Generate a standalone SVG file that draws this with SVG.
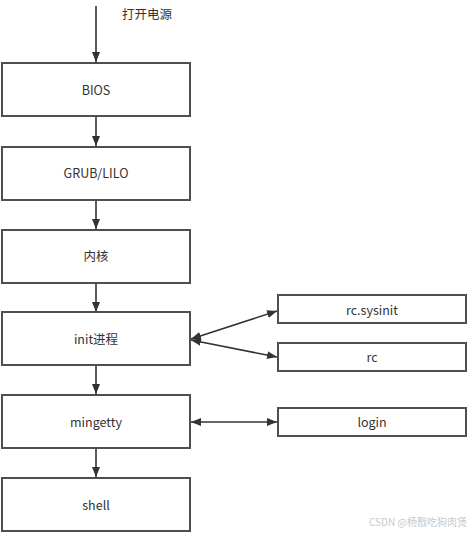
<svg xmlns="http://www.w3.org/2000/svg" width="468" height="534" viewBox="0 0 468 534">
<defs>
<style>
.box{fill:#fff;stroke:#4d4f52;stroke-width:2}
.t{font-family:"Noto Sans CJK SC","Open Sans",sans-serif;font-size:12.5px;fill:#333;text-anchor:middle;dominant-baseline:central}
.c{stroke:#333;stroke-width:1.6;fill:none}
.wm{font-family:"Noto Sans CJK SC",sans-serif;font-size:10px;fill:#c8c8c8}
</style>
<marker id="ah" viewBox="0 0 10 8" refX="10" refY="4" markerWidth="10" markerHeight="8" markerUnits="userSpaceOnUse" orient="auto-start-reverse">
<path d="M0,0 L10,4 L0,8 Z" fill="#333"/>
</marker>
</defs>
<rect width="468" height="534" fill="#fff"/>
<g id="connectors">
<line class="c" x1="96" y1="6" x2="96" y2="62" marker-end="url(#ah)"/>
<line class="c" x1="96" y1="117" x2="96" y2="146" marker-end="url(#ah)"/>
<line class="c" x1="96" y1="201" x2="96" y2="229" marker-end="url(#ah)"/>
<line class="c" x1="96" y1="284" x2="96" y2="312" marker-end="url(#ah)"/>
<line class="c" x1="96" y1="366" x2="96" y2="394" marker-end="url(#ah)"/>
<line class="c" x1="96" y1="449" x2="96" y2="477" marker-end="url(#ah)"/>
<line class="c" x1="191" y1="339" x2="277" y2="311" marker-start="url(#ah)" marker-end="url(#ah)"/>
<line class="c" x1="191" y1="340" x2="277" y2="357" marker-start="url(#ah)" marker-end="url(#ah)"/>
<line class="c" x1="191" y1="422" x2="277" y2="422" marker-start="url(#ah)" marker-end="url(#ah)"/>
</g>
<g id="power"><text class="t" x="147" y="13">打开电源</text></g>
<g id="bios"><rect class="box" x="2" y="63" width="188" height="53"/><text class="t" x="96" y="89">BIOS</text></g>
<g id="grub"><rect class="box" x="2" y="147" width="188" height="53"/><text class="t" x="96" y="172">GRUB/LILO</text></g>
<g id="kernel"><rect class="box" x="2" y="230" width="188" height="53"/><text class="t" x="96" y="255">内核</text></g>
<g id="init"><rect class="box" x="2" y="312" width="188" height="53"/><text class="t" x="96" y="338">init进程</text></g>
<g id="mingetty"><rect class="box" x="2" y="395" width="188" height="53"/><text class="t" x="96" y="421">mingetty</text></g>
<g id="shell"><rect class="box" x="2" y="478" width="188" height="53"/><text class="t" x="96" y="504">shell</text></g>
<g id="rcsysinit"><rect class="box" x="278" y="295" width="188" height="28"/><text class="t" x="372" y="309">rc.sysinit</text></g>
<g id="rc"><rect class="box" x="278" y="343" width="188" height="28"/><text class="t" x="372" y="356">rc</text></g>
<g id="login"><rect class="box" x="278" y="408" width="188" height="28"/><text class="t" x="372" y="421">login</text></g>
<text class="wm" x="369" y="526">CSDN @杨戬吃狗肉煲</text>
</svg>
